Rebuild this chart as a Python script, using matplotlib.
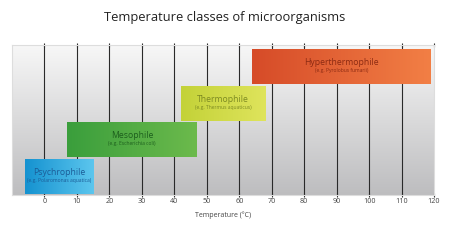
import numpy as np
import matplotlib.pyplot as plt
from matplotlib.colors import LinearSegmentedColormap

plt.rcParams['font.family'] = ['Open Sans', 'DejaVu Sans']

# --- data ---
classes = ['Psychrophile', 'Mesophile', 'Thermophile', 'Hyperthermophile']
examples = ['(e.g. Polaromonas aquatica)', '(e.g. Escherichia coli)',
            '(e.g. Thermus aquaticus)', '(e.g. Pyrolobus fumarii)']
t_min = [-6, 7, 42, 64]
t_max = [15, 47, 68, 119]
ticks = list(range(0, 121, 10))

# gradient colours left -> right, and label colours
bar_cols = [('#1592d0', '#5cc6ee'), ('#3a9e3c', '#6cba4c'),
            ('#c3d238', '#dfe45c'), ('#d64b28', '#f27f45')]
txt_cols = ['#1b5c97', '#1d5f1d', '#7d8a22', '#8c2a12']

fig = plt.figure(figsize=(4.5, 2.45), dpi=100)
ax = fig.add_axes([0.0267, 0.204, 0.9378, 0.612])
ax.set_xlim(-10, 120)
ax.set_ylim(0, 4.1)

# background vertical gradient
bg = np.linspace(0, 1, 256).reshape(-1, 1)
bg_cmap = LinearSegmentedColormap.from_list('bg', ['#bdbdbf', '#f7f7f7'])
ax.imshow(bg, cmap=bg_cmap, extent=(-10, 120, 0, 4.1), origin='lower',
          aspect='auto', zorder=0)

for t in ticks[:-1]:
    ax.axvline(t, color='#2a2a2a', lw=0.8, zorder=1)

grad = np.linspace(0, 1, 256).reshape(1, -1)
for i, name in enumerate(classes):
    y0 = i + 0.03
    h = 0.95
    cm = LinearSegmentedColormap.from_list(name, bar_cols[i])
    ax.imshow(grad, cmap=cm, extent=(t_min[i], t_max[i], y0, y0 + h),
              aspect='auto', zorder=2)
    xc = (t_min[i] + t_max[i]) / 2
    ax.text(xc, y0 + h / 2 + 0.12, name, ha='center', va='center',
            fontsize=6.2, color=txt_cols[i], zorder=3)
    ax.text(xc, y0 + h / 2 - 0.1, examples[i], ha='center', va='center',
            fontsize=3.6, color=txt_cols[i], zorder=3)

ax.set_xticks(ticks)
ax.set_xticklabels([str(t) for t in ticks], fontsize=5.2, color='#444444')
ax.tick_params(axis='x', length=3, width=0.8, color='#2a2a2a', pad=1,
               top=True, direction='inout')
ax.set_yticks([])
for s in ax.spines.values():
    s.set_color('#dddddd')
    s.set_linewidth(0.8)
ax.set_xlabel('Temperature (°C)', fontsize=5, color='#444444', labelpad=4)

fig.text(0.5, 0.927, 'Temperature classes of microorganisms', ha='center',
         va='center', fontsize=9.3, color='#222222')

fig.savefig('out.png', dpi=100)
